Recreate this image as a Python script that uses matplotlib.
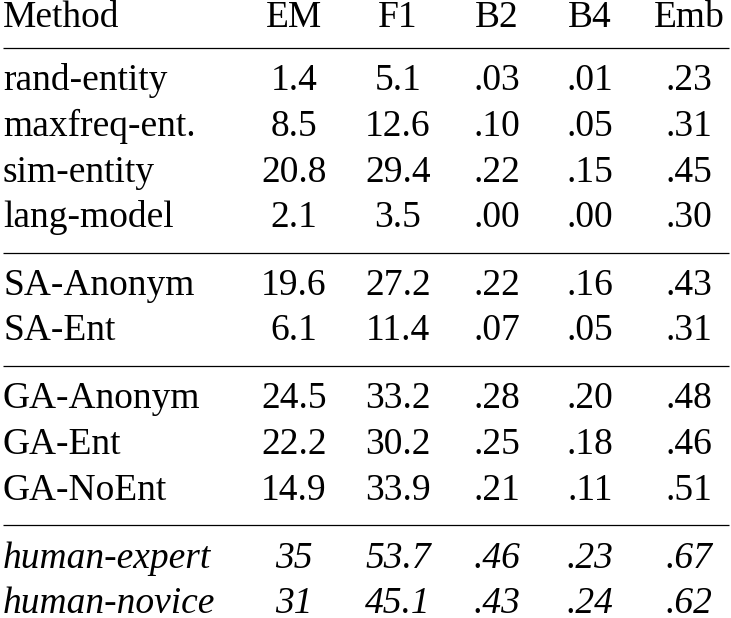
import matplotlib.pyplot as plt

headers = ["Method", "EM", "F1", "B2", "B4", "Emb"]
methods = ["rand-entity", "maxfreq-ent.", "sim-entity", "lang-model",
           "SA-Anonym", "SA-Ent",
           "GA-Anonym", "GA-Ent", "GA-NoEnt",
           "human-expert", "human-novice"]
em = ["1.4", "8.5", "20.8", "2.1", "19.6", "6.1", "24.5", "22.2", "14.9", "35", "31"]
f1 = ["5.1", "12.6", "29.4", "3.5", "27.2", "11.4", "33.2", "30.2", "33.9", "53.7", "45.1"]
b2 = [".03", ".10", ".22", ".00", ".22", ".07", ".28", ".25", ".21", ".46", ".43"]
b4 = [".01", ".05", ".15", ".00", ".16", ".05", ".20", ".18", ".11", ".23", ".24"]
emb = [".23", ".31", ".45", ".30", ".43", ".31", ".48", ".46", ".51", ".67", ".62"]
group_sizes = [4, 2, 3, 2]
italic_rows = ["human-expert", "human-novice"]

W, H = 731, 618
fig = plt.figure(figsize=(W / 100, H / 100), dpi=100)
ax = fig.add_axes([0, 0, 1, 1])
ax.set_xlim(0, W)
ax.set_ylim(H, 0)
ax.axis("off")

fs = 27
font = "Liberation Serif"
col_x = [3, 294, 398, 497, 590, 689]
pitch = 45.5
above = 25.5   # baseline -> rule
below = 42.5   # rule -> next baseline


def draw_row(y, cells, style="normal"):
    for i, txt in enumerate(cells):
        ha = "left" if i == 0 else "center"
        ax.text(col_x[i], y, txt, ha=ha, va="baseline", fontsize=fs,
                family=font, style=style, color="black")


def rule(y):
    ax.plot([3, 729], [y, y], color="black", lw=0.9, solid_capstyle="butt")


y = 27
draw_row(y, headers)
y = 48
rule(y)
idx = 0
for g, n in enumerate(group_sizes):
    y += below
    for k in range(n):
        if k > 0:
            y += pitch
        name = methods[idx]
        st = "italic" if name in italic_rows else "normal"
        draw_row(y, [name, em[idx], f1[idx], b2[idx], b4[idx], emb[idx]], st)
        idx += 1
    if g < len(group_sizes) - 1:
        y += above
        rule(y)

fig.savefig("out.png", dpi=100)
